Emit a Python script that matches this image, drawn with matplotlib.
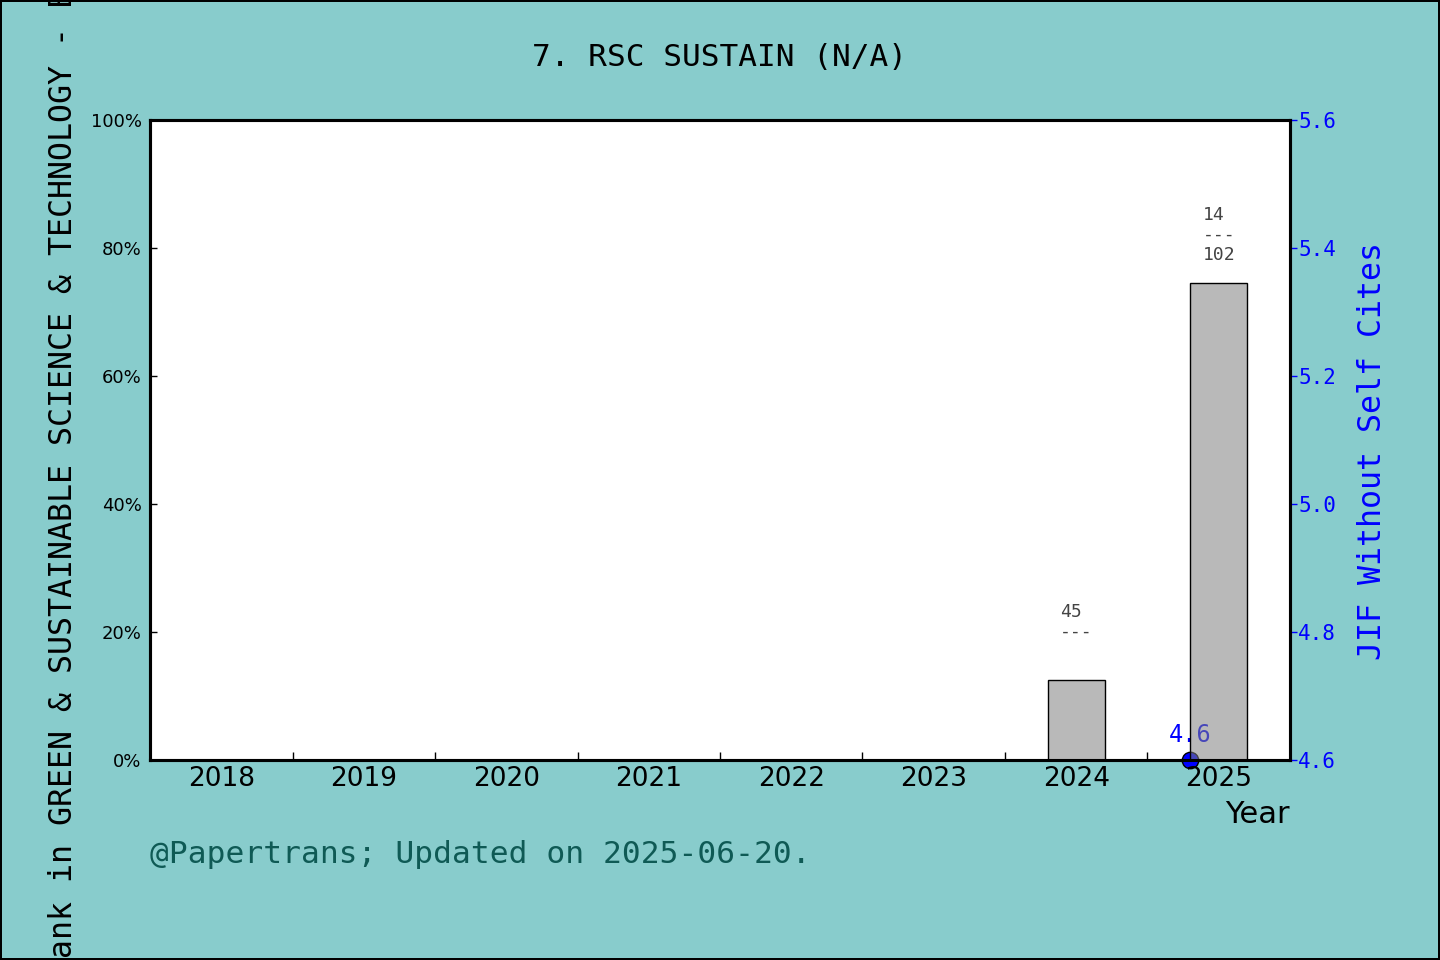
import matplotlib.pyplot as plt
import numpy as np

years = ["2018", "2019", "2020", "2021", "2022", "2023", "2024", "2025"]
rank_pct = [0, 0, 0, 0, 0, 0, 12.5, 74.5]
rank_labels = ["", "", "", "", "", "", "45\n---\n ", "14\n---\n102"]
jif_years = [7]
jif_values = [4.6]
jif_labels = ["4.6"]

title = "7. RSC SUSTAIN (N/A)"
left_label = "Rank in GREEN & SUSTAINABLE SCIENCE & TECHNOLOGY - ESCI"
right_label = "JIF Without Self Cites"
footer = "@Papertrans; Updated on 2025-06-20."

mono = "DejaVu Sans Mono"
bg = "#88cccc"

fig = plt.figure(figsize=(14.4, 9.6), dpi=100, facecolor=bg,
                 edgecolor="black", linewidth=1.5)
rect = [0.1042, 0.2083, 0.7916, 0.6667]
ax2 = fig.add_axes(rect)
ax = fig.add_axes(rect)
ax2.set_facecolor("white")
ax.patch.set_visible(False)
ax.set_zorder(ax2.get_zorder() + 1)

x = np.arange(len(years))
ax.bar(x, rank_pct, width=0.4, facecolor=(0.5, 0.5, 0.5, 0.55),
       edgecolor="black", linewidth=1)
for xi, h, lab in zip(x, rank_pct, rank_labels):
    if lab:
        ax.text(xi, h + 3, lab, ha="center", va="bottom", multialignment="left",
                family=mono, fontsize=13, color="#444444", linespacing=1.15)

ax.set_xlim(-0.5, 7.5)
ax.set_ylim(0, 100)
ax.set_yticks(np.arange(0, 101, 20))
ax.set_yticklabels([f"{v}%" for v in range(0, 101, 20)], fontsize=13)
ax.tick_params(axis="y", direction="in", length=5, width=1, pad=6)
ax.set_xticks(x + 0.5, [""] * len(x))
ax.set_xticks(x, years, minor=True)
ax.tick_params(axis="x", which="major", direction="in", length=6, width=1)
ax.tick_params(axis="x", which="minor", length=0, labelsize=19, pad=4)
for s in list(ax.spines.values()) + list(ax2.spines.values()):
    s.set_linewidth(2.2)
ax.set_ylabel(left_label, family=mono, fontsize=22.8)
ax.yaxis.set_label_coords(-0.062, 0.477)
ax.set_xlabel("Year", fontsize=22, loc="right", labelpad=6)

ax2.set_xlim(-0.5, 7.5)
ax2.set_xticks([])
ax2.yaxis.tick_right()
ax2.yaxis.set_label_position("right")
ax2.set_ylim(4.6, 5.6)
ax2.set_yticks(np.round(np.arange(4.6, 5.61, 0.2), 1))
ax2.tick_params(axis="y", colors="blue", labelsize=15, direction="out",
                length=5, width=1, pad=1)
for lab in ax2.get_yticklabels():
    lab.set_family(mono)
ax2.set_ylabel(right_label, family=mono, fontsize=22.8, color="blue")
ax2.yaxis.set_label_coords(1.059, 0.483)
ax2.scatter(np.array(jif_years) - 0.2, jif_values, s=140, color="blue",
            edgecolors="black", linewidths=1, zorder=5, clip_on=False)
for xj, v, lab in zip(jif_years, jif_values, jif_labels):
    ax2.text(xj - 0.2, v + 0.02, lab, ha="center", va="bottom", family=mono,
             fontsize=17, color="blue")

fig.text(0.5, 0.94, title, ha="center", va="center", family=mono, fontsize=22.4)
fig.text(0.1042, 0.11, footer, ha="left", va="center", family=mono,
         fontsize=22.5, color="#0f5a55")

fig.savefig("out.png", dpi=100, facecolor=bg, edgecolor="black")
